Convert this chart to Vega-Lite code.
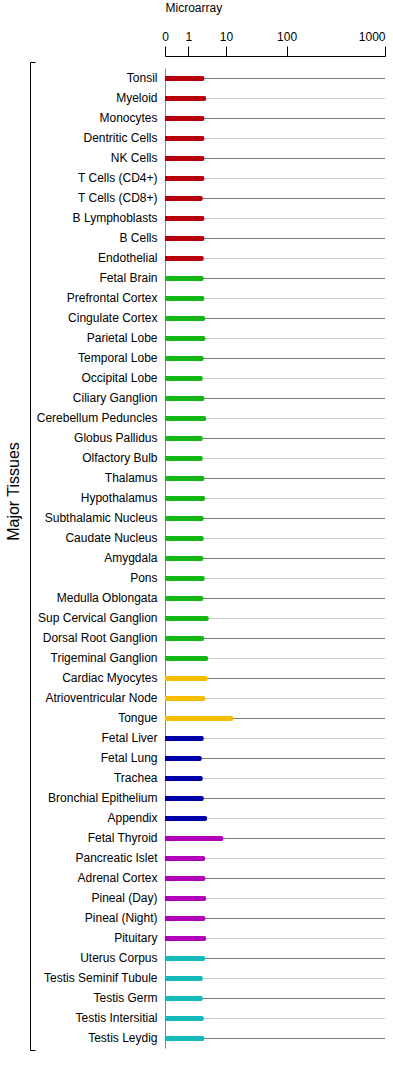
{
  "$schema": "https://vega.github.io/schema/vega-lite/v6.json",
  "padding": {"left": 5, "top": 1, "right": 5, "bottom": 5},
  "background": "white",
  "config": {"font": "Liberation Sans", "view": {"stroke": null}},
  "datasets": {
    "tissues": [
      {"tissue": "Tonsil", "group": "Immune", "value": 4.87},
      {"tissue": "Myeloid", "group": "Immune", "value": 5.27},
      {"tissue": "Monocytes", "group": "Immune", "value": 4.87},
      {"tissue": "Dentritic Cells", "group": "Immune", "value": 4.87},
      {"tissue": "NK Cells", "group": "Immune", "value": 4.87},
      {"tissue": "T Cells (CD4+)", "group": "Immune", "value": 4.87},
      {"tissue": "T Cells (CD8+)", "group": "Immune", "value": 4.47},
      {"tissue": "B Lymphoblasts", "group": "Immune", "value": 4.87},
      {"tissue": "B Cells", "group": "Immune", "value": 4.87},
      {"tissue": "Endothelial", "group": "Immune", "value": 4.71},
      {"tissue": "Fetal Brain", "group": "Neural", "value": 4.71},
      {"tissue": "Prefrontal Cortex", "group": "Neural", "value": 4.87},
      {"tissue": "Cingulate Cortex", "group": "Neural", "value": 5.03},
      {"tissue": "Parietal Lobe", "group": "Neural", "value": 5.11},
      {"tissue": "Temporal Lobe", "group": "Neural", "value": 4.71},
      {"tissue": "Occipital Lobe", "group": "Neural", "value": 4.47},
      {"tissue": "Ciliary Ganglion", "group": "Neural", "value": 4.87},
      {"tissue": "Cerebellum Peduncles", "group": "Neural", "value": 5.27},
      {"tissue": "Globus Pallidus", "group": "Neural", "value": 4.47},
      {"tissue": "Olfactory Bulb", "group": "Neural", "value": 4.47},
      {"tissue": "Thalamus", "group": "Neural", "value": 4.87},
      {"tissue": "Hypothalamus", "group": "Neural", "value": 5.03},
      {"tissue": "Subthalamic Nucleus", "group": "Neural", "value": 4.71},
      {"tissue": "Caudate Nucleus", "group": "Neural", "value": 4.71},
      {"tissue": "Amygdala", "group": "Neural", "value": 4.63},
      {"tissue": "Pons", "group": "Neural", "value": 4.95},
      {"tissue": "Medulla Oblongata", "group": "Neural", "value": 4.63},
      {"tissue": "Sup Cervical Ganglion", "group": "Neural", "value": 5.9},
      {"tissue": "Dorsal Root Ganglion", "group": "Neural", "value": 4.79},
      {"tissue": "Trigeminal Ganglion", "group": "Neural", "value": 5.74},
      {"tissue": "Cardiac Myocytes", "group": "Muscle", "value": 5.66},
      {"tissue": "Atrioventricular Node", "group": "Muscle", "value": 5.03},
      {"tissue": "Tongue", "group": "Muscle", "value": 21.1},
      {"tissue": "Fetal Liver", "group": "Epithelial", "value": 4.71},
      {"tissue": "Fetal Lung", "group": "Epithelial", "value": 4.23},
      {"tissue": "Trachea", "group": "Epithelial", "value": 4.47},
      {"tissue": "Bronchial Epithelium", "group": "Epithelial", "value": 4.71},
      {"tissue": "Appendix", "group": "Epithelial", "value": 5.5},
      {"tissue": "Fetal Thyroid", "group": "Endocrine", "value": 9.4},
      {"tissue": "Pancreatic Islet", "group": "Endocrine", "value": 5.03},
      {"tissue": "Adrenal Cortex", "group": "Endocrine", "value": 5.11},
      {"tissue": "Pineal (Day)", "group": "Endocrine", "value": 5.27},
      {"tissue": "Pineal (Night)", "group": "Endocrine", "value": 5.11},
      {"tissue": "Pituitary", "group": "Endocrine", "value": 5.27},
      {"tissue": "Uterus Corpus", "group": "Reproductive", "value": 5.03},
      {"tissue": "Testis Seminif Tubule", "group": "Reproductive", "value": 4.47},
      {"tissue": "Testis Germ", "group": "Reproductive", "value": 4.47},
      {"tissue": "Testis Intersitial", "group": "Reproductive", "value": 4.71},
      {"tissue": "Testis Leydig", "group": "Reproductive", "value": 4.87}
    ],
    "bracket": [{"end": 0}, {"end": 1}]
  },
  "width": 220,
  "height": 987,
  "layer": [
    {
      "data": {"name": "tissues"},
      "transform": [{"window": [{"op": "row_number", "as": "idx"}]}],
      "layer": [
        {
          "mark": {"type": "rule", "strokeWidth": 1, "yOffset": 0.5},
          "encoding": {
            "y": {"field": "tissue", "type": "nominal", "sort": null},
            "x": {"datum": 0, "type": "quantitative"},
            "x2": {"datum": 1000},
            "color": {
              "condition": {"test": "datum.idx % 2 === 1", "value": "#7a7a7a"},
              "value": "#cccccc"
            }
          }
        },
        {
          "mark": {"type": "bar", "size": 5, "cornerRadiusEnd": 2, "yOffset": 0.5},
          "encoding": {
            "y": {
              "field": "tissue", "type": "nominal", "sort": null,
              "scale": {"range": [12, 992], "paddingInner": 0, "paddingOuter": 0},
              "axis": {
                "title": null, "ticks": false, "domain": true, "domainColor": "#888888",
                "labelFontSize": 12, "labelColor": "#000000", "labelPadding": 8,
                "labelFont": "Liberation Sans"
              }
            },
            "x": {
              "field": "value", "type": "quantitative",
              "scale": {"domain": [0, 1, 10, 100, 1000], "range": [0, 23.3, 61, 121.6, 220], "nice": false, "zero": false},
              "axis": {
                "orient": "top", "values": [0, 1, 10, 100, 1000], "format": "d",
                "title": "Microarray", "titleAnchor": "start", "titleFontWeight": "normal",
                "titleFontSize": 12, "titleColor": "#000000", "titlePadding": 16,
                "labelFontSize": 12, "labelColor": "#000000", "labelPadding": 3,
                "labelAlign": {"expr": "datum.value == 1000 ? 'right' : 'center'"},
                "tickSize": 10, "tickColor": "#000000", "domainColor": "#000000",
                "grid": false, "labelFlush": false, "labelOverlap": false
              }
            },
            "color": {
              "field": "group", "type": "nominal", "legend": null,
              "scale": {
                "domain": ["Immune", "Neural", "Muscle", "Epithelial", "Endocrine", "Reproductive"],
                "range": ["#b8000c", "#14b814", "#f5be00", "#0000aa", "#b000b8", "#14baba"]
              }
            }
          }
        }
      ]
    },
    {
      "data": {"name": "bracket"},
      "mark": {"type": "point", "opacity": 0},
      "encoding": {
        "y": {
          "field": "end", "type": "quantitative",
          "scale": {"domain": [0, 1], "range": [994, 6], "nice": false, "zero": false},
          "axis": {
            "orient": "left", "offset": 135, "values": [0, 1], "labels": false, "grid": false,
            "tickSize": -5, "tickColor": "#000000", "domainColor": "#000000",
            "title": "Major Tissues", "titleFontSize": 16, "titleFontWeight": "normal",
            "titleColor": "#000000", "titlePadding": 8, "titleY": 435, "titleFont": "Liberation Sans"
          }
        }
      }
    }
  ],
  "resolve": {"scale": {"y": "independent"}, "axis": {"y": "independent"}}
}
